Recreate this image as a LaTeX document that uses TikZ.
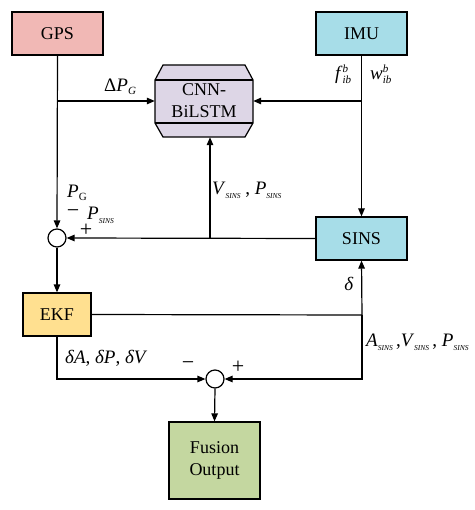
\documentclass[tikz,border=0pt]{standalone}
\usepackage{fontspec}
\setmainfont{Liberation Serif}
\usetikzlibrary{arrows.meta}
\definecolor{gpscol}{RGB}{241,184,181}
\definecolor{imucol}{RGB}{167,221,232}
\definecolor{cnncol}{RGB}{221,214,230}
\definecolor{ekfcol}{RGB}{255,224,144}
\definecolor{fuscol}{RGB}{196,215,160}
\newcommand\Sb[1]{\raisebox{-4pt}{\fontsize{7.5}{8}\selectfont\textit{#1}}}
\newcommand\SbU[1]{\raisebox{-3pt}{\fontsize{11}{11}\selectfont #1}}
\newcommand\SbSp[2]{\rlap{\raisebox{7pt}{\fontsize{11}{11}\selectfont\textit{#2}}}\raisebox{-4pt}{\fontsize{11}{11}\selectfont\textit{#1}}}
\begin{document}
\begin{tikzpicture}[x=1pt,y=-1pt,
  box/.style={draw=black,line width=1.2pt,minimum width=91pt,minimum height=43pt,inner sep=0pt,font=\fontsize{18}{20}\selectfont,align=center},
  sumnode/.style={circle,draw=black,line width=1.2pt,fill=white,minimum size=18pt,inner sep=0pt},
  conn/.style={line width=1.2pt},
  arr/.style={conn,-{Triangle[length=8pt,width=6.5pt]}},
  lbl/.style={font=\fontsize{19}{20}\selectfont,inner sep=0pt},
  sgn/.style={font=\fontsize{22}{22}\selectfont,inner sep=0pt}]
\useasboundingbox (0,0) rectangle (474,510);
% boxes
\node[box,fill=gpscol] (gps) at (57.5,33.5) {GPS};
\node[box,fill=imucol] (imu) at (361.5,33.5) {IMU};
\node[box,fill=imucol] (sins) at (361.5,238.5) {SINS};
\node[box,fill=ekfcol,minimum width=68pt] (ekf) at (57,314.5) {EKF};
\node[box,fill=fuscol,minimum height=77pt] (fus) at (214.5,460.5) {Fusion\\[2pt]Output};
% CNN-BiLSTM
\node[minimum width=98pt,minimum height=72pt,inner sep=0pt] (cnn) at (204,101) {};
\filldraw[fill=cnncol,draw=black,line width=1.2pt]
  (163,65) -- (245,65) -- (253,80) -- (253,123) -- (245,137) -- (163,137) -- (155,123) -- (155,80) -- cycle;
\draw[line width=1.2pt] (155,80) -- (253,80) (155,123) -- (253,123);
\node[font=\fontsize{18}{22}\selectfont,align=center] at (cnn.center) {CNN-\\BiLSTM};
% sum junctions
\node[sumnode] (s1) at (57,238) {};
\node[sumnode] (s2) at (215,379) {};
% coordinates
\coordinate (j1) at (57,101);
\coordinate (j2) at (362,101);
\coordinate (j3) at (210,238);
\coordinate (j4) at (362,315);
\coordinate (c1) at (57,379);
\coordinate (c2) at (362,379);
% connectors
\draw[arr] (gps.south) -- (s1.north);
\draw[arr] (j1) -- (cnn.west);
\draw[arr] (imu.south) -- (sins.north);
\draw[arr] (j2) -- (cnn.east);
\draw[arr] (sins.west) -- (s1.east);
\draw[arr] (j3) -- (cnn.south -| j3);
\draw[arr] (s1.south) -- (ekf.north);
\draw[conn] (ekf.east) -- (j4);
\draw[arr] (j4) -- (sins.south);
\draw[arr] (j4) -- (c2) -- (s2.east);
\draw[arr] (ekf.south) -- (c1) -- (s2.west);
\draw[arr] (s2.south) -- (fus.north);
% labels
\node[lbl,anchor=west] at (104,87) {Δ\textit{P}\SbU{\textit{G}}};
\node[lbl,anchor=west] at (335,74) {\textit{f}\SbSp{ib}{b}};
\node[lbl,anchor=west] at (370,74) {\textit{w}\SbSp{ib}{b}};
\node[lbl,anchor=west] at (67,193) {\textit{P}\SbU{G}};
\node[sgn] at (73,214) {−};
\node[lbl,anchor=west] at (87,215) {\textit{P}\Sb{SINS}};
\node[sgn] at (86,230) {+};
\node[lbl,anchor=west] at (212,190) {\textit{V}\Sb{SINS} , \textit{P}\Sb{SINS}};
\node[lbl] at (349,284) {\textit{δ}};
\node[lbl,anchor=west] at (366,342) {\textit{A}\Sb{SINS}\,,\textit{V}\Sb{SINS}\,, \textit{P}\Sb{SINS}};
\node[lbl,anchor=west] at (65,358) {\textit{δA}, \textit{δP}, \textit{δV}};
\node[sgn] at (188,366) {−};
\node[sgn] at (238,367) {+};
\end{tikzpicture}
\end{document}
